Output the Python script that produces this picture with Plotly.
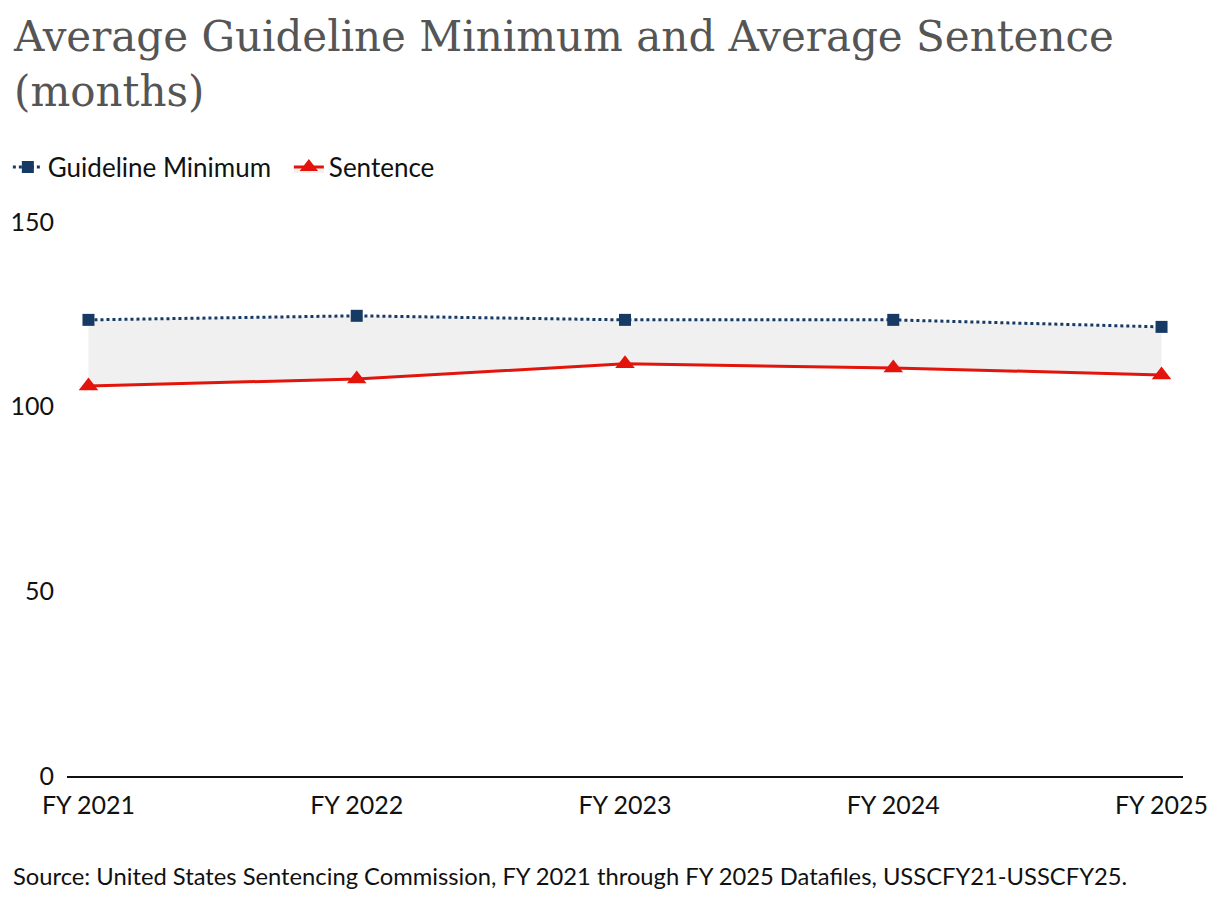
import plotly.graph_objects as go

# Datos
anios = ["FY 2021", "FY 2022", "FY 2023", "FY 2024", "FY 2025"]
minimo_guia = [123.5, 124.6, 123.5, 123.5, 121.6]
sentencia = [105.6, 107.5, 111.6, 110.5, 108.6]

AZUL = "#163a64"
ROJO = "#e3140b"

fig = go.Figure()

fig.add_trace(go.Scatter(
    x=anios, y=minimo_guia, name="Guideline Minimum",
    mode="lines+markers",
    line=dict(color=AZUL, width=3, dash="dot"),
    marker=dict(symbol="square", size=12, color=AZUL),
))
fig.add_trace(go.Scatter(
    x=anios, y=sentencia, name="Sentence",
    mode="lines+markers",
    fill="tonexty", fillcolor="#f0f0f0",
    line=dict(color=ROJO, width=3),
    marker=dict(symbol="triangle-up", size=17, color=ROJO),
))

# Título como anotación (dos líneas)
fig.add_annotation(
    text="Average Guideline Minimum and Average Sentence<br>(months)",
    xref="paper", yref="paper", x=-0.05, y=1.383,
    xanchor="left", yanchor="top", align="left", showarrow=False,
    font=dict(family="DejaVu Serif", size=42, color="#555555"),
)

fig.add_annotation(
    text="Source: United States Sentencing Commission, FY 2021 through FY 2025 Datafiles, USSCFY21-USSCFY25.",
    xref="paper", yref="paper", x=-0.05, y=-0.1805,
    xanchor="left", yanchor="middle", showarrow=False,
    font=dict(size=23.75, color="#111111"),
)

fig.update_layout(
    width=1212, height=894,
    margin=dict(l=59, r=37, t=214, b=126, autoexpand=False),
    plot_bgcolor="white", paper_bgcolor="white",
    font=dict(family="Lato", size=25, color="#111111"),
    legend=dict(
        orientation="h", x=-0.053, xanchor="left", y=1.099, yanchor="middle",
        font=dict(size=26), traceorder="normal", entrywidth=236,
    ),
    showlegend=True,
)

fig.update_xaxes(
    range=[-0.08, 4.08], showgrid=False, showline=True, automargin=False,
    linecolor="#111111", linewidth=2, ticks="", ticklabelstandoff=6,
    tickfont=dict(size=25),
)
fig.update_yaxes(
    range=[0, 150], tickvals=[0, 50, 100, 150], showgrid=False, automargin=False,
    zeroline=False, showline=False, ticks="", ticklabelstandoff=12,
    tickfont=dict(size=25),
)

fig.write_html("out.html")
